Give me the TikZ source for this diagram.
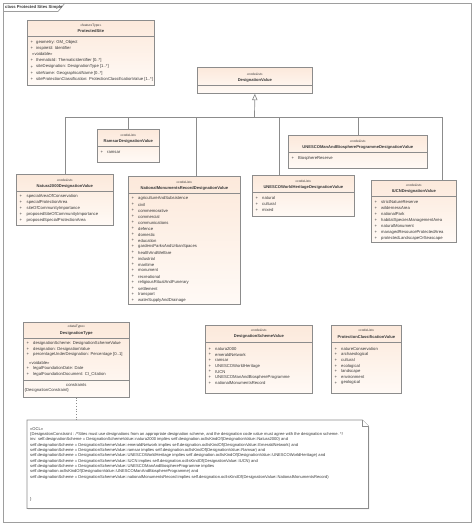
\documentclass[tikz,border=0pt]{standalone}
\usepackage{fontspec}
\setmainfont{Liberation Sans}
\usepackage{tikz}
\usetikzlibrary{arrows.meta, calc, shadows}
\definecolor{lineGray}{gray}{0.55}
\definecolor{frameGray}{gray}{0.62}
\definecolor{textGray}{gray}{0.22}
\definecolor{boxTop}{RGB}{252,233,219}
\definecolor{boxBottom}{RGB}{255,250,246}

\tikzset{
  classbox/.style={draw=lineGray, line width=0.7pt, top color=boxTop, bottom color=boxBottom,
    anchor=north west, inner sep=0pt,
    drop shadow={shadow xshift=1pt, shadow yshift=-1pt, opacity=0.25}},
  stereo/.style={font=\fontsize{3.3}{3.7}\selectfont, text=textGray, inner sep=0pt},
  cname/.style={font=\fontsize{4.1}{4.5}\selectfont\bfseries, text=textGray, inner sep=0pt},
  attr/.style={font=\fontsize{4.2}{4.6}\selectfont, text=textGray, anchor=west, inner sep=0pt},
  sepline/.style={draw=lineGray, line width=0.6pt},
  genline/.style={draw=lineGray, line width=0.7pt},
  notebox/.style={draw=lineGray, line width=0.7pt, fill=white},
}

\begin{document}
\begin{tikzpicture}[x=1pt, y=-1pt]
    \useasboundingbox (0,0) rectangle (474,525);

    % diagram frame
    \draw[draw=frameGray, line width=0.8pt] (3,3) rectangle (471,522);
    \draw[draw=frameGray, line width=0.7pt] (3,11.5) -- (58,11.5) -- (65,3);
    \node[font=\fontsize{4.2}{4.6}\selectfont\bfseries, text=textGray, anchor=west, inner sep=0pt] (title) at (5,7.4) {class Protected Sites Simple};

    % ProtectedSite
    \node[classbox, minimum width=127pt, minimum height=65pt] (ps) at (27,20) {};
    \node[stereo] (ps-st) at (ps.north |- 0,25.5) {«featureType»};
    \node[cname] (ps-nm) at (ps.north |- 0,31) {ProtectedSite};
    \draw[sepline] (ps.west |- 0,36) -- (ps.east |- 0,36);
    \foreach \y/\a [count=\i] in {42/geometry: GM\_Object, 48.2/inspireId: Identifier,
        60.6/thematicId: ThematicIdentifier [0..*], 66.8/siteDesignation: DesignationType [1..*],
        73/siteName: GeographicalName [0..*], 79.2/siteProtectionClassification: ProtectionClassificationValue [1..*]} {
      \node[attr] (ps-p\i) at (30.5,\y) {+};
      \node[attr] (ps-a\i) at (36,\y) {\a};
    }
    \node[attr] (ps-vo) at (32,54.4) {«voidable»};

    % DesignationValue
    \node[classbox, minimum width=115pt, minimum height=26pt] (dv) at (197,67) {};
    \node[stereo] (dv-st) at (dv.north |- 0,74) {«codeList»};
    \node[cname] (dv-nm) at (dv.north |- 0,80) {DesignationValue};
    \draw[sepline] (dv.west |- 0,85) -- (dv.east |- 0,85);

    % RamsarDesignationValue
    \node[classbox, minimum width=62pt, minimum height=33pt] (ram) at (97,129) {};
    \node[stereo] (ram-st) at (ram.north |- 0,135) {«codeList»};
    \node[cname] (ram-nm) at (ram.north |- 0,141.5) {RamsarDesignationValue};
    \draw[sepline] (ram.west |- 0,146) -- (ram.east |- 0,146);
    \node[attr] (ram-p1) at (100.5,152) {+};
    \node[attr] (ram-a1) at (107,152) {ramsar};

    % UNESCOManAndBiosphereProgrammeDesignationValue
    \node[classbox, minimum width=139pt, minimum height=33pt] (mab) at (288,135) {};
    \node[stereo] (mab-st) at (mab.north |- 0,141) {«codeList»};
    \node[cname] (mab-nm) at (mab.north |- 0,147) {UNESCOManAndBiosphereProgrammeDesignationValue};
    \draw[sepline] (mab.west |- 0,152) -- (mab.east |- 0,152);
    \node[attr] (mab-p1) at (291.5,158) {+};
    \node[attr] (mab-a1) at (298,158) {BiosphereReserve};

    % Natura2000DesignationValue
    \node[classbox, minimum width=97pt, minimum height=51pt] (n2k) at (16,174) {};
    \node[stereo] (n2k-st) at (n2k.north |- 0,180) {«codeList»};
    \node[cname] (n2k-nm) at (n2k.north |- 0,186) {Natura2000DesignationValue};
    \draw[sepline] (n2k.west |- 0,191.5) -- (n2k.east |- 0,191.5);
    \foreach \a [count=\i] in {specialAreaOfConservation, specialProtectionArea, siteOfCommunityImportance,
        proposedSiteOfCommunityImportance, proposedSpecialProtectionArea} {
      \pgfmathsetmacro\yy{196.5+6*(\i-1)}
      \node[attr] (n2k-p\i) at (19.5,\yy) {+};
      \node[attr] (n2k-a\i) at (26.5,\yy) {\a};
    }

    % NationalMonumentsRecordDesignationValue
    \node[classbox, minimum width=112pt, minimum height=128pt] (nmr) at (128,176) {};
    \node[stereo] (nmr-st) at (nmr.north |- 0,182) {«codeList»};
    \node[cname] (nmr-nm) at (nmr.north |- 0,188) {NationalMonumentsRecordDesignationValue};
    \draw[sepline] (nmr.west |- 0,193) -- (nmr.east |- 0,193);
    \foreach \a [count=\i] in {agricultureAndSubsistence, civil, commemorative, commercial, communications,
        defence, domestic, education, gardensParksAndUrbanSpaces, healthAndWelfare, industrial, maritime,
        monument, recreational, religiousRitualAndFunerary, settlement, transport, waterSupplyAndDrainage} {
      \pgfmathsetmacro\yy{198.5+6*(\i-1)}
      \node[attr] (nmr-p\i) at (131.5,\yy) {+};
      \node[attr] (nmr-a\i) at (138,\yy) {\a};
    }

    % UNESCOWorldHeritageDesignationValue
    \node[classbox, minimum width=102pt, minimum height=41pt] (whv) at (252,175) {};
    \node[stereo] (whv-st) at (whv.north |- 0,181) {«codeList»};
    \node[cname] (whv-nm) at (whv.north |- 0,187.5) {UNESCOWorldHeritageDesignationValue};
    \draw[sepline] (whv.west |- 0,192.5) -- (whv.east |- 0,192.5);
    \foreach \a [count=\i] in {natural, cultural, mixed} {
      \pgfmathsetmacro\yy{198+6*(\i-1)}
      \node[attr] (whv-p\i) at (255.5,\yy) {+};
      \node[attr] (whv-a\i) at (262,\yy) {\a};
    }

    % IUCNDesignationValue
    \node[classbox, minimum width=85pt, minimum height=62pt] (iucn) at (371,180) {};
    \node[stereo] (iucn-st) at (iucn.north |- 0,185.5) {«codeList»};
    \node[cname] (iucn-nm) at (iucn.north |- 0,191.5) {IUCNDesignationValue};
    \draw[sepline] (iucn.west |- 0,196.5) -- (iucn.east |- 0,196.5);
    \foreach \a [count=\i] in {strictNatureReserve, wildernessArea, nationalPark, habitatSpeciesManagementArea,
        naturalMonument, managedResourceProtectedArea, protectedLandscapeOrSeascape} {
      \pgfmathsetmacro\yy{202+6*(\i-1)}
      \node[attr] (iucn-p\i) at (374.5,\yy) {+};
      \node[attr] (iucn-a\i) at (381,\yy) {\a};
    }

    % generalisation tree
    \coordinate (bus) at (254.5,117);
    \draw[genline] (n2k.north) |- (bus);
    \draw[genline] (ram.north) |- (bus);
    \draw[genline] ([xshift=12pt]nmr.north) |- (bus);
    \draw[genline] ([xshift=-24pt]whv.north) |- (bus);
    \draw[genline] (mab.north) |- (bus);
    \draw[genline] ([xshift=28.5pt]iucn.north) |- (bus);
    \draw[genline, -{Triangle[open, length=6.5pt, width=5.5pt]}] (bus) -- (dv.south);

    % DesignationType
    \node[classbox, minimum width=106pt, minimum height=75pt] (dt) at (23,322) {};
    \node[stereo] (dt-st) at (dt.north |- 0,327) {«dataType»};
    \node[cname] (dt-nm) at (dt.north |- 0,333) {DesignationType};
    \draw[sepline] (dt.west |- 0,338.5) -- (dt.east |- 0,338.5);
    \foreach \y/\a [count=\i] in {343.3/designationScheme: DesignationSchemeValue, 349/designation: DesignationValue,
        354.7/percentageUnderDesignation: Percentage [0..1], 368.3/legalFoundationDate: Date,
        374.7/legalFoundationDocument: CI\_Citation} {
      \node[attr] (dt-p\i) at (26.5,\y) {+};
      \node[attr] (dt-a\i) at (33,\y) {\a};
    }
    \node[attr] (dt-vo) at (29,362.5) {«voidable»};
    \draw[sepline] (dt.west |- 0,380) -- (dt.east |- 0,380);
    \node[attr, anchor=center] (dt-cs) at (dt.north |- 0,384.5) {constraints};
    \node[attr] (dt-c1) at (24.5,390.5) {\{DesignationConstraint\}};

    % DesignationSchemeValue
    \node[classbox, minimum width=107pt, minimum height=68pt] (dsv) at (205,325) {};
    \node[stereo] (dsv-st) at (dsv.north |- 0,330.7) {«codeList»};
    \node[cname] (dsv-nm) at (dsv.north |- 0,336.7) {DesignationSchemeValue};
    \draw[sepline] (dsv.west |- 0,342) -- (dsv.east |- 0,342);
    \foreach \a [count=\i] in {natura2000, emeraldNetwork, ramsar, UNESCOWorldHeritage, IUCN,
        UNESCOManAndBiosphereProgramme, nationalMonumentsRecord} {
      \pgfmathsetmacro\yy{349+5.65*(\i-1)}
      \node[attr] (dsv-p\i) at (208.5,\yy) {+};
      \node[attr] (dsv-a\i) at (215,\yy) {\a};
    }

    % ProtectionClassificationValue
    \node[classbox, minimum width=70pt, minimum height=68pt] (pcv) at (331,325) {};
    \node[stereo] (pcv-st) at (pcv.north |- 0,330.7) {«codeList»};
    \node[cname] (pcv-nm) at (pcv.north |- 0,336.7) {ProtectionClassificationValue};
    \draw[sepline] (pcv.west |- 0,342) -- (pcv.east |- 0,342);
    \foreach \a [count=\i] in {natureConservation, archaeological, cultural, ecological, landscape,
        environment, geological} {
      \pgfmathsetmacro\yy{349+5.65*(\i-1)}
      \node[attr] (pcv-p\i) at (334.5,\yy) {+};
      \node[attr] (pcv-a\i) at (341,\yy) {\a};
    }

    % OCL note
    \node[anchor=north west, minimum width=341pt, minimum height=88pt, inner sep=0pt] (ocl) at (27,420) {};
    \draw[notebox, drop shadow={shadow xshift=1pt, shadow yshift=-1pt, opacity=0.2}]
        (ocl.north west) -- ([xshift=-6pt]ocl.north east) -- ([yshift=-6pt]ocl.north east)
        -- (ocl.south east) -- (ocl.south west) -- cycle;
    \draw[notebox] ([xshift=-6pt]ocl.north east) -- ([xshift=-6pt, yshift=-6pt]ocl.north east) -- ([yshift=-6pt]ocl.north east);
    \draw[genline, dotted] (dt.south) -- (dt.south |- ocl.north);
    \node[font=\fontsize{4.1}{5.33}\selectfont, text=textGray, align=left, anchor=north west, inner sep=0pt] (ocl-txt) at (30,427.2) {%
      «OCL»\\
      \{DesignationConstraint : /*Sites must use designations from an appropriate designation scheme, and the designation code value must agree with the designation scheme. */\\
      inv: self.designationScheme = DesignationSchemeValue::natura2000 implies self.designation.oclIsKindOf(DesignationValue::Natura2000) and\\
      self.designationScheme = DesignationSchemeValue::emeraldNetwork implies self.designation.oclIsKindOf(DesignationValue::EmeraldNetwork) and\\
      self.designationScheme = DesignationSchemeValue::ramsar implies self.designation.oclIsKindOf(DesignationValue::Ramsar) and\\
      self.designationScheme = DesignationSchemeValue::UNESCOWorldHeritage implies self.designation.oclIsKindOf(DesignationValue::UNESCOWorldHeritage) and\\
      self.designationScheme = DesignationSchemeValue::IUCN implies self.designation.oclIsKindOf(DesignationValue::IUCN) and\\
      self.designationScheme = DesignationSchemeValue::UNESCOManAndBiosphereProgramme implies\\
      self.designation.oclIsKindOf(DesignationValue::UNESCOManAndBiosphereProgramme) and\\
      self.designationScheme = DesignationSchemeValue::nationalMonumentsRecord implies self.designation.oclIsKindOf(DesignationValue::NationalMonumentsRecord)};
    \node[font=\fontsize{4.1}{5.33}\selectfont, text=textGray, anchor=west, inner sep=0pt] (ocl-end) at (30,499) {\}};
\end{tikzpicture}
\end{document}
